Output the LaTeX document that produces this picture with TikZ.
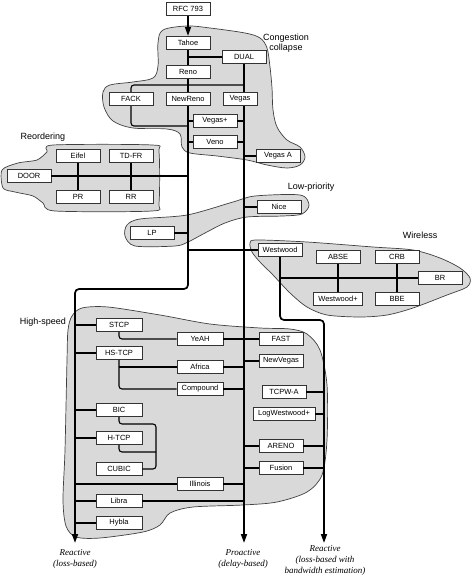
\documentclass[tikz,border=0pt]{standalone}
\usepackage{fontspec}
\setmainfont{Liberation Serif}
\setsansfont{Liberation Sans}
\usetikzlibrary{arrows.meta,positioning}

\begin{document}
\begin{tikzpicture}[
  x=1pt, y=-1pt, on grid, font=\sffamily,
  % STYLES
  every node/.style={inner sep=1pt},
  % OWNs
  tbox/.style={draw=black!80,fill=white,line width=0.7pt,minimum width=44pt,minimum height=13.5pt,font=\sffamily\fontsize{7.5}{8}\selectfont},
  hbox/.style={tbox,minimum width=46pt},
  area/.style={fill=black!15,draw=black!75,line width=0.7pt},
  alabel/.style={font=\sffamily\fontsize{9}{10}\selectfont,align=center},
  elabel/.style={font=\itshape\fontsize{9}{11}\selectfont,align=center},
  mline/.style={line width=1.7pt,rounded corners=4pt},
  bline/.style={line width=1.1pt,rounded corners=3pt},
  tip/.style={-{Triangle[length=9pt,width=6pt]}},
  jdot/.style={circle,fill=black,inner sep=0pt,minimum size=3pt}]

  \useasboundingbox (0,0) rectangle (474,577);

  % the grey areas
  \path[area] plot[smooth cycle,tension=0.55] coordinates {
    (158,43) (163,30) (187,26) (210,28) (245,33) (260,38) (267,48) (270,67)
    (272,88) (273,110) (277,127) (287,140) (300,147) (305,157) (300,165)
    (287,168) (267,165) (247,160) (217,156) (190,153) (182,147) (180,134)
    (167,129) (133,128) (113,121) (104,107) (103,92) (110,85) (133,82)
    (153,78) (158,66)};
  \path[area] plot[smooth cycle,tension=0.45] coordinates {
    (53,145) (152,145) (159,152) (159,203) (152,211) (55,211) (43,203)
    (33,196) (15,192) (3,188) (2,170) (18,163) (37,160) (47,152)};
  \path[area] plot[smooth cycle,tension=0.5] coordinates {
    (127,225) (140,219) (187,215) (233,202) (255,196) (300,195) (309,205)
    (302,214) (283,216) (247,217) (225,223) (205,233) (188,242) (175,246)
    (135,246) (125,236)};
  \path[area] plot[smooth cycle,tension=0.5] coordinates {
    (250,243) (257,240) (307,242) (373,247) (413,250) (440,258) (460,268)
    (470,278) (467,287) (447,295) (413,308) (387,315) (360,317) (327,315)
    (307,307) (290,293) (273,275) (260,262) (252,252)};
  \path[area] plot[smooth cycle,tension=0.5] coordinates {
    (72,316) (82,308) (108,307) (160,315) (210,324) (260,328) (290,329)
    (307,334) (320,350) (327,385) (327,440) (322,475) (307,492) (277,502)
    (243,505) (193,507) (170,513) (160,525) (143,532) (100,538) (76,537)
    (66,526) (63,500) (65,450) (67,360) (68,330)};

  \node[alabel] (congestion) at (286,43) {Congestion\\collapse};
  \node[alabel] (reordering) at (43,137) {Reordering};
  \node[alabel] (lowprio) at (311,187) {Low-priority};
  \node[alabel] (wireless) at (420,235) {Wireless};
  \node[alabel] (highspeed) at (43,322) {High-speed};

  % congestion collapse
  \node[tbox] (rfc) at (188,9) {RFC 793};
  \node[tbox] [below=34pt of rfc] (tahoe) {Tahoe};
  \node[tbox] [below=29pt of tahoe] (reno) {Reno};
  \node[tbox] [below=27pt of reno] (newreno) {NewReno};
  \node[tbox] [left=57pt of newreno] (fack) {FACK};
  \node[tbox,minimum width=34pt] [right=52pt of newreno] (vegas) {Vegas};
  \node[tbox] (dual) at (244,57) {DUAL};
  \node[tbox] (vegasp) at (215,121) {Vegas+};
  \node[tbox] [below=21pt of vegasp] (veno) {Veno};
  \node[tbox] (vegasa) at (278,156) {Vegas A};

  % reordering
  \node[tbox] (door) at (29,176) {DOOR};
  \node[tbox] (eifel) at (78,156) {Eifel};
  \node[tbox] [right=53pt of eifel] (tdfr) {TD-FR};
  \node[tbox] [below=41pt of eifel] (pr) {PR};
  \node[tbox] [below=41pt of tdfr] (rr) {RR};

  % low-priority
  \node[tbox] (nice) at (279,207) {Nice};
  \node[tbox] (lp) at (152,233) {LP};

  % wireless
  \node[tbox] (westwood) at (280,250) {Westwood};
  \node[tbox] (abse) at (338,257) {ABSE};
  \node[tbox] [right=59pt of abse] (crb) {CRB};
  \node[tbox] (br) at (440,278) {BR};
  \node[tbox,minimum width=49pt] [below=42pt of abse] (westwoodp) {Westwood+};
  \node[tbox] [below=42pt of crb] (bbe) {BBE};

  % high-speed
  \node[hbox] (stcp) at (119,325) {STCP};
  \node[hbox] [below=28pt of stcp] (hstcp) {HS-TCP};
  \node[hbox] [below=57pt of hstcp] (bic) {BIC};
  \node[hbox] [below=28pt of bic] (htcp) {H-TCP};
  \node[hbox] [below=31pt of htcp] (cubic) {CUBIC};
  \node[hbox] [below=32pt of cubic] (libra) {Libra};
  \node[hbox] [below=22pt of libra] (hybla) {Hybla};
  \node[hbox] (yeah) at (200,339) {YeAH};
  \node[hbox] [below=28pt of yeah] (africa) {Africa};
  \node[hbox] [below=22pt of africa] (compound) {Compound};
  \node[hbox] (illinois) at (200,484) {Illinois};
  \node[tbox] (fast) at (281,339) {FAST};
  \node[tbox] [below=22pt of fast] (newvegas) {NewVegas};
  \node[tbox] (tcpwa) at (284,392) {TCPW-A};
  \node[tbox,minimum width=62pt] [below=22pt of tcpwa] (logwest) {LogWestwood+};
  \node[tbox] (areno) at (281,446) {ARENO};
  \node[tbox] [below=22pt of areno] (fusion) {Fusion};

  % end labels
  \node[elabel] (lossbased) at (75,559) {Reactive\\(loss-based)};
  \node[elabel] (delaybased) at (243,559) {Proactive\\(delay-based)};
  \node[elabel] (bwbased) at (325,560) {Reactive\\(loss-based with\\bandwidth estimation)};

  \coordinate (turnA) at (75,289);
  \coordinate (endA) at (75,543);
  \coordinate (endB) at (244,543);
  \coordinate (turnC) at (324,320);
  \coordinate (endC) at (324,543);
  \coordinate (bus) at (244,85);
  \coordinate (fackj) at (188,126);
  \coordinate (bicj) at (156,424);
  \coordinate (htcpj) at (156,452);

  % main lines
  \draw[mline,tip,line width=1.5pt] (rfc) -- (tahoe);
  \path[mline]
    (tahoe) edge (reno)
    (reno) edge (newreno)
    (dual) edge (dual.south |- vegas.north);
  \draw[mline,tip] (newreno.south) |- (turnA) -- (endA);
  \draw[mline,tip] (dual.south |- vegas.south) -- (endB);
  \draw[mline,tip] (westwood.south) |- (turnC) -- (endC);

  % branches
  \draw[bline] (tahoe.south |- dual.west) -- (dual.west);
  \draw[bline] (fack.north) |- (bus);
  \draw[bline] (fack.south) |- (fackj);
  \path[bline]
    (vegasp.west -| newreno.south) edge (vegasp.west)
    (vegasp.east) edge (vegasp.east -| dual.south)
    (veno.west -| newreno.south) edge (veno.west)
    (veno.east) edge (veno.east -| dual.south)
    (vegasa.west -| dual.south) edge (vegasa.west)
    (door.east) edge (door.east -| newreno.south)
    (eifel) edge (pr)
    (tdfr) edge (rr)
    (lp.east) edge (lp.east -| newreno.south)
    (nice.west -| dual.south) edge (nice.west)
    (westwood.west -| newreno.south) edge (westwood.west)
    (westwood.south |- br.west) edge (br.west)
    (abse) edge (westwoodp)
    (crb) edge (bbe);
  \node[jdot] at (eifel.south |- door.east) {};
  \node[jdot] at (tdfr.south |- door.east) {};
  \node[jdot] at (abse.south |- br.west) {};
  \node[jdot] at (crb.south |- br.west) {};

  \path[bline]
    (stcp.west -| turnA) edge (stcp.west)
    (hstcp.west -| turnA) edge (hstcp.west)
    (bic.west -| turnA) edge (bic.west)
    (htcp.west -| turnA) edge (htcp.west)
    (illinois.west -| turnA) edge (illinois.west)
    (libra.west -| turnA) edge (libra.west)
    (hybla.west -| turnA) edge (hybla.west)
    (yeah.east) edge (fast.west)
    (hstcp.south |- africa.west) edge (africa.west)
    (africa.east) edge (africa.east -| endB)
    (compound.east) edge (compound.east -| endB)
    (illinois.east) edge (illinois.east -| endB)
    (libra.east) edge (libra.east -| endB)
    (newvegas.west -| endB) edge (newvegas.west)
    (areno.west -| endB) edge (areno.west)
    (fusion.west -| endB) edge (fusion.west)
    (tcpwa.east) edge (tcpwa.east -| endC)
    (logwest.east) edge (logwest.east -| endC)
    (areno.east) edge (areno.east -| endC)
    (fusion.east) edge (fusion.east -| endC);
  \draw[bline] (stcp.south) |- (yeah.west);
  \draw[bline] (hstcp.south) |- (compound.west);
  \draw[bline] (bic.south) |- (bicj) |- (cubic.east);
  \draw[bline] (htcp.south) |- (htcpj);
\end{tikzpicture}
\end{document}
